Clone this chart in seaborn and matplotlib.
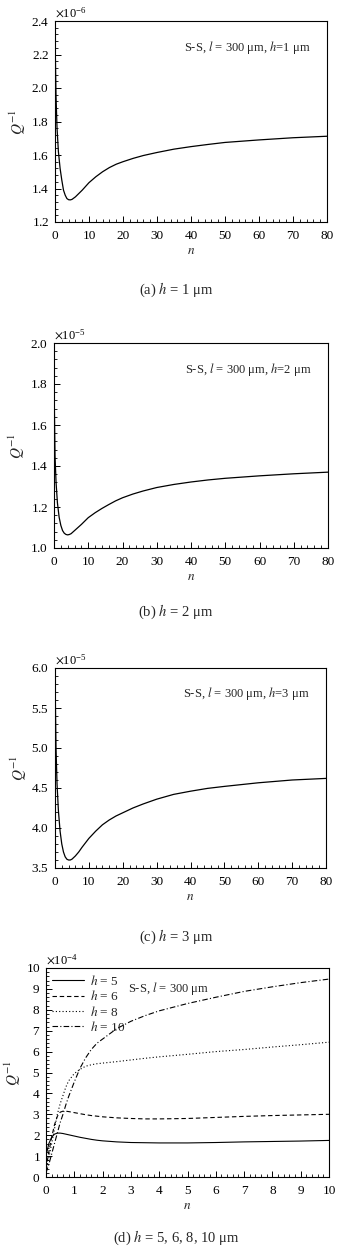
import numpy as np
import pandas as pd
import seaborn as sns
import matplotlib
matplotlib.use("Agg")
import matplotlib.pyplot as plt
from matplotlib.ticker import AutoMinorLocator, ScalarFormatter

# values (Q^-1)
n_long = [0.0, 0.3, 0.6, 1.0, 1.5, 2.0, 2.5, 3.0, 3.5, 4.0, 4.5, 5.0, 6.0, 7.0, 8.0,
          10.0, 12.0, 14.0, 16.0, 18.0, 20.0, 23.0, 26.0, 30.0, 35.0, 40.0, 45.0, 50.0,
          60.0, 70.0, 80.0]
q_h1 = [2.32, 1.95, 1.76, 1.62, 1.52, 1.45, 1.39, 1.36, 1.34, 1.333, 1.332, 1.335, 1.35,
        1.37, 1.39, 1.435, 1.47, 1.5, 1.525, 1.545, 1.56, 1.58, 1.597, 1.615, 1.635, 1.65,
        1.663, 1.675, 1.69, 1.703, 1.712]
q_h2 = [1.82, 1.45, 1.32, 1.22, 1.15, 1.11, 1.085, 1.072, 1.066, 1.064, 1.066, 1.07, 1.085,
        1.1, 1.115, 1.148, 1.172, 1.193, 1.212, 1.23, 1.245, 1.263, 1.278, 1.295, 1.31, 1.322,
        1.332, 1.34, 1.352, 1.362, 1.37]
q_h3 = [5.92, 5.0, 4.55, 4.22, 3.96, 3.8, 3.7, 3.64, 3.61, 3.6, 3.6, 3.61, 3.65,
        3.7, 3.76, 3.87, 3.96, 4.04, 4.1, 4.15, 4.19, 4.25, 4.3, 4.36, 4.42, 4.46,
        4.495, 4.52, 4.565, 4.6, 4.62]

n_short = [0.0, 0.1, 0.2, 0.3, 0.4, 0.5, 0.6, 0.7, 0.8, 1.0, 1.2, 1.4, 1.6, 1.8, 2.0, 2.5,
           3.0, 3.5, 4.0, 5.0, 6.0, 7.0, 8.0, 9.0, 10.0]
q_h5 = [1.0, 1.6, 1.9, 2.05, 2.1, 2.1, 2.08, 2.05, 2.02, 1.96, 1.9, 1.85, 1.8, 1.76, 1.73, 1.68,
        1.65, 1.64, 1.63, 1.63, 1.65, 1.68, 1.7, 1.72, 1.75]
q_h6 = [0.4, 1.2, 1.9, 2.5, 2.9, 3.1, 3.15, 3.15, 3.13, 3.08, 3.03, 2.98, 2.94, 2.91, 2.88, 2.83,
        2.8, 2.78, 2.78, 2.8, 2.85, 2.9, 2.94, 2.97, 3.0]
q_h8 = [0.3, 0.9, 1.6, 2.3, 3.0, 3.5, 3.9, 4.3, 4.6, 4.95, 5.15, 5.3, 5.37, 5.42, 5.45, 5.52,
        5.6, 5.68, 5.75, 5.87, 6.0, 6.1, 6.22, 6.33, 6.45]
q_h10 = [0.2, 0.6, 1.1, 1.6, 2.1, 2.6, 3.0, 3.45, 3.85, 4.55, 5.2, 5.7, 6.1, 6.4, 6.6, 7.1,
         7.45, 7.72, 7.95, 8.3, 8.6, 8.88, 9.1, 9.3, 9.47]

captions = ["(a) $h$ = 1 μm", "(b) $h$ = 2 μm", "(c) $h$ = 3 μm", "(d) $h$ = 5, 6, 8, 10 μm"]
notes = ["S-S, $l$ = 300 μm, $h$=1 μm", "S-S, $l$ = 300 μm, $h$=2 μm",
         "S-S, $l$ = 300 μm, $h$=3 μm", "S-S, $l$ = 300 μm"]

sns.set_style("ticks")
plt.rcParams["font.family"] = ["Liberation Serif", "DejaVu Serif"]
plt.rcParams["mathtext.fontset"] = "stix"
plt.rcParams["font.size"] = 9
plt.rcParams["axes.linewidth"] = 0.8

fig = plt.figure(figsize=(3.52, 12.57), dpi=100)

# axes boxes in pixels: left, top, right, bottom
boxes = [(55, 21, 327, 222), (54, 343, 328, 548), (55, 668, 326, 868), (46, 968, 329, 1177)]
cap_y = [290, 612, 937, 1238]
W, H = 352, 1257


def make_ax(box):
    l, t, r, b = box
    return fig.add_axes([l / W, 1 - b / H, (r - l) / W, (b - t) / H])


def style_ax(ax, exp):
    ax.tick_params(direction="in", which="both", labelsize=9.5, colors="black", top=False, right=False)
    ax.tick_params(which="major", length=4, width=0.7)
    ax.tick_params(which="minor", length=2, width=0.6)
    ax.tick_params(axis="x", which="major", pad=6)
    ax.tick_params(axis="y", which="major", pad=4)
    ax.xaxis.set_minor_locator(AutoMinorLocator(5))
    ax.yaxis.set_minor_locator(AutoMinorLocator(5))
    fmt = ScalarFormatter(useMathText=True)
    fmt.set_powerlimits((exp, exp))
    ax.yaxis.set_major_formatter(fmt)
    ax.yaxis.get_offset_text().set_fontsize(9)
    ax.set_xlabel("$n$", fontsize=9.5, labelpad=2)
    ax.set_ylabel("$Q^{-1}$", fontsize=11, labelpad=2)
    for s in ax.spines.values():
        s.set_color("black")


single = [(q_h1, 1e-6, -6, (1.2, 2.4), 0.2), (q_h2, 1e-5, -5, (1.0, 2.0), 0.2),
          (q_h3, 1e-5, -5, (3.5, 6.0), 0.5)]
for i, (vals, scale, exp, ylim, step) in enumerate(single):
    ax = make_ax(boxes[i])
    df = pd.DataFrame({"n": n_long, "q": np.array(vals) * scale})
    sns.lineplot(data=df, x="n", y="q", ax=ax, color="black", linewidth=0.9, sort=False)
    ax.set_xlim(0, 80)
    ax.set_ylim(ylim[0] * scale, ylim[1] * scale)
    ax.set_xticks(np.arange(0, 81, 10))
    ax.set_yticks(np.arange(ylim[0], ylim[1] + 1e-9, step) * scale)
    style_ax(ax, exp)
    ax.text(0.94, 0.87, notes[i], transform=ax.transAxes, ha="right", va="center", fontsize=9)

# panel (d)
ax = make_ax(boxes[3])
series = [("$h$ = 5", q_h5, "-"), ("$h$ = 6", q_h6, (0, (4, 2.5))),
          ("$h$ = 8", q_h8, (0, (1, 2))), ("$h$ = 10", q_h10, (0, (5, 2, 1, 2)))]
for lab, vals, ls in series:
    df = pd.DataFrame({"n": n_short, "q": np.array(vals) * 1e-4})
    sns.lineplot(data=df, x="n", y="q", ax=ax, color="black", linewidth=0.8,
                 linestyle=ls, label=lab, sort=False)
ax.set_xlim(0, 10)
ax.set_ylim(0, 10e-4)
ax.set_xticks(np.arange(0, 11, 1))
ax.set_yticks(np.arange(0, 11, 1) * 1e-4)
style_ax(ax, -4)
ax.legend(loc="upper left", frameon=False, fontsize=9.5, handlelength=2.4,
          handletextpad=0.45, labelspacing=0.1, borderaxespad=0.15, borderpad=0.3)
ax.text(0.29, 0.904, notes[3], transform=ax.transAxes, ha="left", va="center", fontsize=9)

for cap, y in zip(captions, cap_y):
    fig.text(0.5, 1 - y / H, cap, ha="center", va="center", fontsize=10.5)

fig.savefig("out.png", dpi=100, facecolor="white")
